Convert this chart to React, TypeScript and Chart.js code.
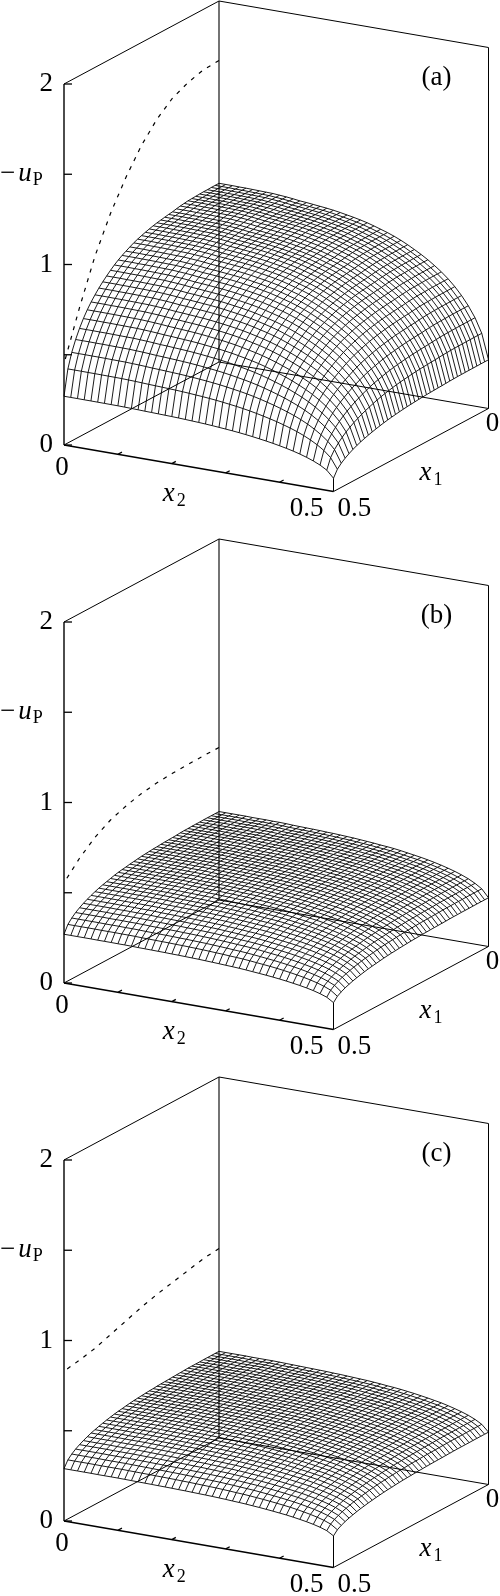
import React, { useEffect, useRef } from "react";
import { Chart, registerables } from "chart.js";

Chart.register(...registerables);

// ---- data -------------------------------------------------------------
// grid positions along x1 and x2 (same grid in both directions)
const GRID = [
  0, 0.0125, 0.025, 0.0375, 0.05, 0.0625, 0.075, 0.0875, 0.1, 0.1125, 0.125,
  0.1375, 0.15, 0.1625, 0.175, 0.1875, 0.2, 0.2125, 0.225, 0.2375, 0.25,
  0.2625, 0.275, 0.2875, 0.3, 0.3125, 0.325, 0.3375, 0.35, 0.3625, 0.375,
  0.3875, 0.4, 0.4125, 0.425, 0.4375, 0.45, 0.4625, 0.475, 0.4875, 0.5,
];

// -u_P along an edge of the quarter domain
const PROFILE_A = [
  0.99, 0.99, 0.99, 0.989, 0.989, 0.988, 0.987, 0.986, 0.985, 0.982, 0.979,
  0.975, 0.97, 0.967, 0.963, 0.959, 0.955, 0.95, 0.944, 0.937, 0.93, 0.922,
  0.913, 0.902, 0.89, 0.878, 0.864, 0.848, 0.83, 0.81, 0.789, 0.766, 0.74,
  0.712, 0.68, 0.643, 0.6, 0.55, 0.49, 0.41, 0.27,
];
const PROFILE_B = [
  0.49, 0.49, 0.49, 0.49, 0.49, 0.489, 0.489, 0.489, 0.488, 0.488, 0.487,
  0.485, 0.484, 0.483, 0.482, 0.481, 0.479, 0.478, 0.476, 0.474, 0.472, 0.469,
  0.466, 0.463, 0.459, 0.456, 0.452, 0.447, 0.441, 0.435, 0.429, 0.422, 0.414,
  0.405, 0.395, 0.384, 0.371, 0.356, 0.337, 0.313, 0.27,
];
const PROFILE_C = [
  0.48, 0.48, 0.48, 0.48, 0.48, 0.479, 0.479, 0.479, 0.479, 0.478, 0.477,
  0.476, 0.475, 0.474, 0.473, 0.472, 0.471, 0.469, 0.468, 0.466, 0.464, 0.462,
  0.46, 0.457, 0.454, 0.45, 0.447, 0.443, 0.438, 0.433, 0.427, 0.421, 0.414,
  0.407, 0.398, 0.388, 0.377, 0.364, 0.348, 0.327, 0.29,
];

// dashed reference curve on the x2 = 0 wall
const DASH_X1 = [0, 0.05, 0.1, 0.15, 0.2, 0.25, 0.3, 0.35, 0.4, 0.45, 0.5];
const DASH_A = [1.67, 1.665, 1.64, 1.6, 1.53, 1.43, 1.3, 1.145, 0.955, 0.715, 0.45];
const DASH_B = [0.845, 0.845, 0.843, 0.84, 0.833, 0.82, 0.797, 0.765, 0.715, 0.645, 0.555];
const DASH_C = [1.05, 1.04, 1.02, 1.0, 0.98, 0.955, 0.925, 0.895, 0.865, 0.845, 0.83];

const Z_TICKS = [0, 0.5, 1, 1.5, 2];
const Z_TICK_LABELS = ["0", "", "1", "", "2"];
const X2_MINOR_TICKS = [0.1, 0.2, 0.3, 0.4];
const AXIS_END_LABELS = ["0", "0.5"];
const PANEL_TAGS = ["(a)", "(b)", "(c)"];

const PANELS = [
  { tag: PANEL_TAGS[0], surf: PROFILE_A, dash: DASH_A },
  { tag: PANEL_TAGS[1], surf: PROFILE_B, dash: DASH_B },
  { tag: PANEL_TAGS[2], surf: PROFILE_C, dash: DASH_C },
];

// ---- view (style) ----------------------------------------------------
const W = 500;
const H = 1596;
const PANEL_STEP = 538;
const VIEW = { ox: 219, oy: 362, e1: [-310, 166], e2: [539, 93], ez: 180.5 };
const X1MAX = 0.5;
const X2MAX = 0.5;
const ZMAX = 2;
const FONT = '"Liberation Serif", "DejaVu Serif", serif';

function project(p: number, x1: number, x2: number, z: number) {
  return {
    x: VIEW.ox + VIEW.e1[0] * x1 + VIEW.e2[0] * x2,
    y: VIEW.oy + p * PANEL_STEP + VIEW.e1[1] * x1 + VIEW.e2[1] * x2 - VIEW.ez * z,
  };
}

function seg(points: { x: number; y: number }[], width: number, color: string, dash?: number[]) {
  return {
    data: points,
    showLine: true,
    borderColor: color,
    borderWidth: width,
    borderDash: dash || [],
    pointRadius: 0,
    pointHoverRadius: 0,
    tension: 0,
    fill: false,
    clip: false as any,
  };
}

function buildDatasets() {
  const ds: any[] = [];
  PANELS.forEach((panel, p) => {
    const f = panel.surf;
    const f0 = f[0];
    const zAt = (i: number, j: number) => (f[i] * f[j]) / f0;
    // mesh: lines of constant x1
    for (let i = 0; i < GRID.length; i++) {
      ds.push(
        seg(
          GRID.map((x2, j) => project(p, GRID[i], x2, zAt(i, j))),
          0.9,
          "#000"
        )
      );
    }
    // mesh: lines of constant x2
    for (let j = 0; j < GRID.length; j++) {
      ds.push(
        seg(
          GRID.map((x1, i) => project(p, x1, GRID[j], zAt(i, j))),
          0.9,
          "#000"
        )
      );
    }
    const last = GRID.length - 1;
    // box
    const A = project(p, X1MAX, 0, 0);
    const B = project(p, X1MAX, X2MAX, 0);
    const C = project(p, 0, X2MAX, 0);
    const D = project(p, 0, 0, 0);
    const At = project(p, X1MAX, 0, ZMAX);
    const Ct = project(p, 0, X2MAX, ZMAX);
    const Dt = project(p, 0, 0, ZMAX);
    ds.push(seg([A, B], 1.6, "#000"));
    ds.push(seg([B, C], 1, "#000"));
    ds.push(seg([C, D], 1, "#000"));
    ds.push(seg([D, A], 1, "#000"));
    ds.push(seg([A, At], 1.4, "#000"));
    ds.push(seg([D, Dt], 1.1, "#000"));
    ds.push(seg([C, Ct], 1, "#000"));
    ds.push(seg([At, Dt, Ct], 1, "#000"));
    ds.push(seg([B, project(p, X1MAX, X2MAX, zAt(last, last))], 1, "#000"));
    // z ticks
    Z_TICKS.forEach((z) => {
      const a = project(p, X1MAX, 0, z);
      ds.push(seg([a, { x: a.x + 8, y: a.y }], 1.3, "#000"));
    });
    // x2 minor ticks
    X2_MINOR_TICKS.forEach((x2) => {
      ds.push(seg([project(p, X1MAX, x2, 0), project(p, X1MAX - 0.013, x2, 0)], 1.3, "#000"));
    });
    // dashed curve
    ds.push(
      seg(
        DASH_X1.map((x1, k) => project(p, x1, 0, panel.dash[k])),
        1.2,
        "#000",
        [4, 6]
      )
    );
  });
  return ds;
}

type Part = { t: string; italic?: boolean; size: number; dy?: number; gap?: number };

function drawRich(ctx: CanvasRenderingContext2D, parts: Part[], x: number, y: number) {
  let cx = x;
  ctx.textAlign = "left";
  ctx.textBaseline = "alphabetic";
  for (const part of parts) {
    ctx.font = `${part.italic ? "italic " : ""}${part.size}px ${FONT}`;
    ctx.fillText(part.t, cx, y + (part.dy || 0));
    cx += ctx.measureText(part.t).width + (part.gap || 0);
  }
}

const labelPlugin = {
  id: "labels3d",
  afterDatasetsDraw(chart: any) {
    const ctx: CanvasRenderingContext2D = chart.ctx;
    const xs = chart.scales.x;
    const ys = chart.scales.y;
    const P = (pt: { x: number; y: number }) => ({
      x: xs.getPixelForValue(pt.x),
      y: ys.getPixelForValue(pt.y),
    });
    ctx.save();
    ctx.fillStyle = "#000";
    PANELS.forEach((panel, p) => {
      ctx.font = `27px ${FONT}`;
      ctx.textBaseline = "middle";
      // z tick labels
      ctx.textAlign = "right";
      Z_TICKS.forEach((z, k) => {
        if (!Z_TICK_LABELS[k]) return;
        const a = P(project(p, X1MAX, 0, z));
        ctx.fillText(Z_TICK_LABELS[k], a.x - 11, a.y);
      });
      // axis end labels
      const A = P(project(p, X1MAX, 0, 0));
      const B = P(project(p, X1MAX, X2MAX, 0));
      const C = P(project(p, 0, X2MAX, 0));
      ctx.textAlign = "center";
      ctx.fillText(AXIS_END_LABELS[0], A.x - 2, A.y + 23);
      ctx.textAlign = "right";
      ctx.fillText(AXIS_END_LABELS[1], B.x - 10, B.y + 17);
      ctx.textAlign = "left";
      ctx.fillText(AXIS_END_LABELS[1], B.x + 4, B.y + 17);
      ctx.textAlign = "center";
      ctx.fillText(AXIS_END_LABELS[0], C.x + 4, C.y + 15);
      // panel tag
      const T = P(project(p, 0, X2MAX, ZMAX));
      ctx.fillText(panel.tag, T.x - 52, T.y + 30);
      // axis titles
      const zl = P(project(p, X1MAX, 0, 1.5));
      drawRich(
        ctx,
        [
          { t: "\u2212", size: 27, gap: 3 },
          { t: "u", italic: true, size: 27, gap: 1 },
          { t: "P", size: 18, dy: 4 },
        ],
        zl.x - 64,
        zl.y + 7
      );
      const x2l = P(project(p, X1MAX, 0.2, 0));
      drawRich(
        ctx,
        [
          { t: "x", italic: true, size: 27, gap: 2 },
          { t: "2", size: 18, dy: 5 },
        ],
        x2l.x - 9,
        x2l.y + 37
      );
      const x1l = P(project(p, 0.2, X2MAX, 0));
      drawRich(
        ctx,
        [
          { t: "x", italic: true, size: 27, gap: 2 },
          { t: "1", size: 18, dy: 5 },
        ],
        x1l.x - 7,
        x1l.y + 38
      );
    });
    ctx.restore();
  },
};

export default function App() {
  const ref = useRef<HTMLCanvasElement | null>(null);
  useEffect(() => {
    document.body.style.margin = "0";
    document.body.style.background = "#fff";
    if (!ref.current) return;
    const chart = new Chart(ref.current, {
      type: "scatter",
      data: { datasets: buildDatasets() },
      options: {
        animation: false,
        responsive: false,
        maintainAspectRatio: false,
        events: [],
        layout: { padding: 0 },
        plugins: {
          legend: { display: false },
          tooltip: { enabled: false },
          title: { display: false },
        },
        scales: {
          x: { type: "linear", min: 0, max: W, display: false },
          y: { type: "linear", min: 0, max: H, reverse: true, display: false },
        },
      },
      plugins: [labelPlugin],
    } as any);
    return () => chart.destroy();
  }, []);
  return (
    <div style={{ width: W, height: H, background: "#fff" }}>
      <canvas ref={ref} width={W} height={H} style={{ display: "block" }} />
    </div>
  );
}
